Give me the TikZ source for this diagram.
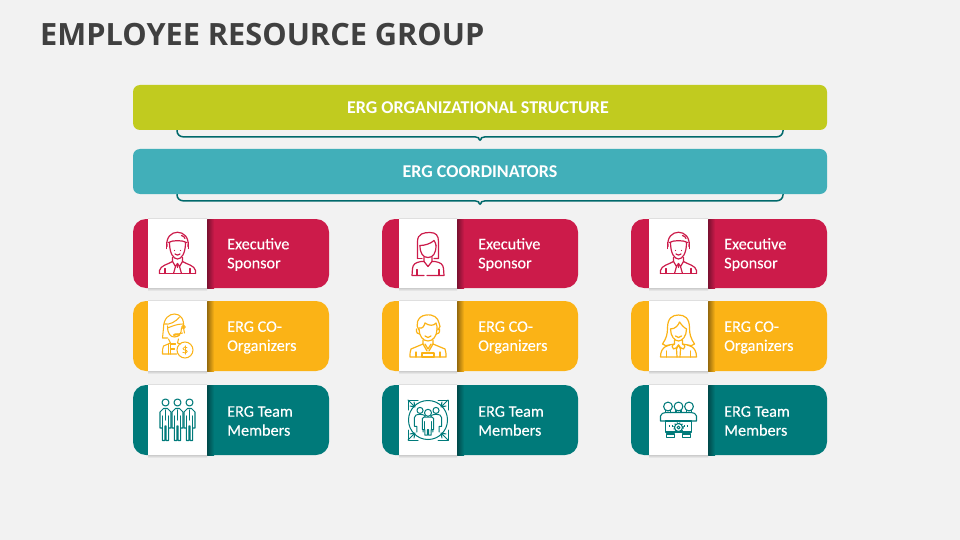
\documentclass[tikz,border=0pt]{standalone}
\usepackage{fontspec}
\setmainfont{Carlito}
\newfontfamily\cardfont[FakeBold=0.25]{Carlito}
\newfontfamily\titlefont{Open Sans}
\definecolor{bgc}{HTML}{F2F2F2}
\definecolor{titlec}{HTML}{404040}
\definecolor{greenc}{HTML}{C1CB1F}
\definecolor{aquac}{HTML}{41AFB9}
\definecolor{redc}{HTML}{CC1B4A}
\definecolor{redd}{HTML}{7A1030}
\definecolor{yelc}{HTML}{FBB316}
\definecolor{yeld}{HTML}{94690D}
\definecolor{tealc}{HTML}{007A7A}
\definecolor{teald}{HTML}{00494A}
\definecolor{bracec}{HTML}{00696B}
\tikzset{
  bar/.style={rounded corners=7pt,inner sep=0pt,outer sep=0pt,minimum width=694pt,minimum height=45pt,text height=12.4pt,text depth=0pt,text=white,font=\fontsize{18}{20}\selectfont\bfseries},
  brace/.style={draw=bracec,line width=1.5pt},
  cardbox/.style={rounded corners=13pt,inner sep=0pt,outer sep=0pt,minimum width=196pt},
  whitebox/.style={fill=white,inner sep=0pt,outer sep=0pt},
  cardtext/.style={anchor=west,align=left,inner sep=0pt,text=white,font=\cardfont\fontsize{16.2}{19}\selectfont},
  ico/.style={line width=1.2pt,line join=round,line cap=round},
  pics/execman/.style={code={
    \begin{scope}[ico]
    \draw (-10.5,-7) .. controls (-13,-26) and (13,-26) .. (10.5,-7);
    \draw (-9,-11) .. controls (-5,-13.5) and (5,-13.5) .. (9,-11);
    \draw (-8,-11) .. controls (-8,0) and (-4,5.5) .. (0,5.5) .. controls (4,5.5) and (8,0) .. (8,-11);
    \draw (4,-18) .. controls (6,-18) and (7,-16) .. (7.5,-15);
    \draw (-11,-11) -- (-11,-5) (11,-11) -- (11,-5);
    \draw (-2.5,0.5) .. controls (-1,2) and (1,2) .. (2.5,0.5);
    \fill (-3,-3) circle (0.7) (3,-3) circle (0.7);
    \draw (-18,20) -- (18,20);
    \draw (-18,20) -- (-18,17) .. controls (-17,12) and (-10,11) .. (-5,8) -- (-5,4);
    \draw (18,20) -- (18,17) .. controls (17,12) and (10,11) .. (5,8) -- (5,4);
    \draw (-12.5,20) -- (-12.5,15) (12.5,20) -- (12.5,15);
    \draw (-5,8) -- (-2,13) -- (0,10) -- (2,13) -- (5,8);
    \draw (-4,20) -- (-2,13) (4,20) -- (2,13) (0,10) -- (0,14);
    \end{scope}}},
  pics/execwoman/.style={code={
    \begin{scope}[ico]
    \draw (-10.5,5) -- (-10.5,-12) .. controls (-10.5,-20) and (-4,-21) .. (2,-21) .. controls (8,-21) and (10.5,-18) .. (10.5,-12) -- (10.5,5) -- (6,5);
    \draw (-10.5,5) -- (-6,5);
    \draw (-8,-8) .. controls (-3,-8) and (3,-10) .. (6,-13) .. controls (7,-11) and (8,-10) .. (8,-8);
    \draw (-8,-8) .. controls (-8,0) and (-5,4) .. (0,4) .. controls (5,4) and (8,0) .. (8,-8);
    \draw (-4,4) -- (-4,8) -- (0,13) -- (4,8) -- (4,4);
    \draw (-4,8) -- (-7,8) .. controls (-13,9) and (-15,11) .. (-15.5,15) -- (-16,22) -- (-4,22);
    \draw (4,8) -- (7,8) .. controls (13,9) and (15,11) .. (15.5,15) -- (16,22) -- (-1,22);
    \draw (-11,16) -- (-11,22) (11,16) -- (11,22);
    \end{scope}}},
  pics/coinwoman/.style={code={
    \begin{scope}[ico,line width=1.05pt]
    \draw (-14,-8) .. controls (-14,-18) and (-8,-22) .. (-3,-22) .. controls (3,-22) and (7,-17) .. (6,-8);
    \draw (-13,-12) .. controls (-8,-11) and (-2,-14) .. (2,-19);
    \draw (-10,-8) .. controls (-5,-10) and (0,-12) .. (5,-12);
    \draw (-10,-10) .. controls (-10,-2) and (-7,1) .. (-3,1) .. controls (1,1) and (4,-2) .. (4,-8);
    \draw (-14,-8) -- (-15,2) -- (-10,2);
    \draw (6,-8) -- (7,-3) (6,-9) circle (1.8);
    \draw (-3,-1) -- (5,-3);
    \draw (-1,-1) ellipse (3 and 1.2);
    \draw (-9,3) -- (-7,7) -- (-14,10) .. controls (-15,12) and (-15,14) .. (-15,18) -- (-1,18);
    \draw (1,3) -- (0,7) -- (3,8);
    \draw (-9,8) -- (-9,18) (-7,8) -- (-2,8) (-7,13) -- (-3,13) (-7,18) -- (-7,8);
    \draw (7.5,14) circle (8);
    \draw[line width=0.8pt] (9.6,11.7) .. controls (8.5,10.6) and (5.5,10.8) .. (5.5,12.6) .. controls (5.5,14.6) and (9.8,13.6) .. (9.8,15.6) .. controls (9.8,17.4) and (6.5,17.5) .. (5.3,16.3);
    \draw[line width=0.8pt] (7.5,9.8) -- (7.5,18.2);
    \end{scope}}},
  pics/boy/.style={code={
    \begin{scope}[ico]
    \draw (-9,-6) .. controls (-13,-10) and (-11,-20) .. (-2,-21) .. controls (6,-22) and (10,-18) .. (11,-13) .. controls (13,-11) and (12,-8) .. (10,-6);
    \draw (-9,-8) .. controls (-5,-7) and (-4,-10) .. (-3,-13) .. controls (1,-10) and (6,-10) .. (8,-13) .. controls (9,-11) and (9,-9) .. (9,-7);
    \draw (-9,-7) .. controls (-9,0) and (-5,5) .. (0,5) .. controls (5,5) and (9,0) .. (9,-7);
    \draw (-11.5,-7) .. controls (-12,-3) and (-10,-2) .. (-8.5,-2);
    \draw (11.5,-7) .. controls (12,-3) and (10,-2) .. (8.5,-2);
    \draw (-3,0) .. controls (-1,2) and (1,2) .. (3,0);
    \draw (-5,4) -- (-5,8) -- (-17,13) .. controls (-18,15) and (-18,18) .. (-18,21) -- (18,21) .. controls (18,18) and (18,15) .. (17,13) -- (5,8) -- (5,4);
    \draw (-5,8) -- (-1,15) (5,8) -- (1,15) (-3,8) -- (0,13) -- (3,8);
    \draw (-6,17) rectangle (6,21);
    \draw (-12,21) -- (-12,16) (12,21) -- (12,16);
    \end{scope}}},
  pics/longhair/.style={code={
    \begin{scope}[ico]
    \draw (-11,-8) .. controls (-11,-18) and (-6,-21) .. (0,-21) .. controls (6,-21) and (11,-18) .. (11,-8) .. controls (11,-2) and (12,2) .. (16,8) .. controls (14,10) and (12,10) .. (9,9);
    \draw (-11,-8) .. controls (-11,-2) and (-12,2) .. (-16,8) .. controls (-14,10) and (-12,10) .. (-9,9);
    \draw (-8,-7) .. controls (-3,-7) and (0,-11) .. (1,-14) .. controls (3,-11) and (6,-8) .. (8,-7);
    \draw (-8,-7) .. controls (-8,0) and (-4,5) .. (0,5) .. controls (4,5) and (8,0) .. (8,-7);
    \draw (-3,0) .. controls (-1,2) and (1,2) .. (3,0);
    \draw (-4,4) -- (-4,8) .. controls (-10,9) and (-18,10) .. (-18,21) -- (18,21) .. controls (18,10) and (10,9) .. (4,8) -- (4,4);
    \draw (-4,8) .. controls (-7,9) and (-7,12) .. (-5,13) .. controls (-3,13) and (-1,11) .. (0,9) .. controls (1,11) and (3,13) .. (5,13) .. controls (7,12) and (7,9) .. (4,8);
    \draw (0,9) -- (-2,13) -- (-1.5,21) (0,9) -- (2,13) -- (1.5,21);
    \draw (-12,21) -- (-12,15) (12,21) -- (12,15);
    \end{scope}}},
  pics/person/.style={code={
    \draw[fill=white] (0,-17.5) circle (3.5);
    \draw[fill=white] (-5.5,8) -- (-5.5,-8) -- (-2,-11.5) -- (2,-11.5) -- (5.5,-8) -- (5.5,8) -- (3.2,8) -- (3.2,20.5) -- (0.6,20.5) -- (0.6,6) -- (-0.6,6) -- (-0.6,20.5) -- (-3.2,20.5) -- (-3.2,8) -- cycle;
    \draw (-3.2,-4) -- (-3.2,8) (3.2,-4) -- (3.2,8);
    \draw (0,-10) -- (0,0);
  }},
  pics/threemen/.style={code={
    \begin{scope}[ico,line width=1.05pt]
    \pic at (-12,0) {person};
    \pic at (12,0) {person};
    \pic at (0,0) {person};
    \end{scope}}},
  pics/groupcircle/.style={code={
    \begin{scope}[ico,line width=1pt]
    \draw (0,0) circle (19.5);
    \draw (-10,-20) -- (-20,-20) -- (-20,-10) (10,-20) -- (20,-20) -- (20,-10);
    \draw (-10,20) -- (-20,20) -- (-20,10) (10,20) -- (20,20) -- (20,10);
    \draw (-20,-20) -- (-13,-13) (-14,-18) -- (-13,-13) -- (-18,-14);
    \draw (20,-20) -- (13,-13) (14,-18) -- (13,-13) -- (18,-14);
    \draw (-20,20) -- (-13,13) (-14,18) -- (-13,13) -- (-18,14);
    \draw (20,20) -- (13,13) (14,18) -- (13,13) -- (18,14);
    \begin{scope}[scale=0.8]
    \foreach \px in {-10,10}{
      \draw (\px,-12) circle (3.8);
      \draw (\px-7,8) -- (\px-7,-3) .. controls (\px-7,-6) and (\px-4,-7) .. (\px,-7) .. controls (\px+4,-7) and (\px+7,-6) .. (\px+7,-3) -- (\px+7,8) -- (\px+4,8) -- (\px+4,15) (\px-4,15) -- (\px-4,8) -- (\px-7,8);
    }
    \draw[fill=white] (0,-9) circle (4.4);
    \draw[fill=white] (-7,-2) .. controls (-7,-4) and (-4,-3.5) .. (0,-3.5) .. controls (4,-3.5) and (7,-4) .. (7,-2) -- (7,12) -- (4,12) -- (4,19) -- (0.7,19) -- (0.7,12) -- (-0.7,12) -- (-0.7,19) -- (-4,19) -- (-4,12) -- (-7,12) -- cycle;
    \draw (-4,2) -- (-4,12) (4,2) -- (4,12);
    \end{scope}
    \end{scope}}},
  pics/teamgear/.style={code={
    \begin{scope}[ico,line width=1.05pt]
    \foreach \px in {-10.5,0,10.5}{
      \draw (\px,-13.5) circle (4.4);
      \draw (\px-2.5,-9.5) -- (\px-2.5,-7.5) (\px+2.5,-9.5) -- (\px+2.5,-7.5);
    }
    \draw (-18,1) -- (-18,-4) .. controls (-18,-6) and (-15,-7.5) .. (-13,-7.5) -- (13,-7.5) .. controls (15,-7.5) and (18,-6) .. (18,-4) -- (18,1) -- cycle;
    \draw (-13,1) rectangle (13,12);
    \draw[dotted,line cap=butt] (-10,6) -- (-5,6) (5,6) -- (10,6);
    \draw[fill=white] (0,7.5) circle (4);
    \draw[dash pattern=on 1pt off 1.6pt,line width=1.2pt,line cap=butt] (0,7.5) circle (4.9);
    \draw (0,7.5) circle (1.5);
    \draw (-8,12) -- (-8,14) (8,12) -- (8,14);
    \draw (-12,14) rectangle (-4,17.5);
    \draw (4,14) rectangle (12,17.5);
    \end{scope}}}
}
\newcommand{\setcol}[4]{\def\cx{#1}\def\wl{#2}\def\wr{#3}\def\tx{#4}}
\newcommand{\setrow}[5]{\def\yt{#1}\def\yb{#2}\def\cc{#3}\def\cd{#4}\def\ty{#5}}
\newcommand{\card}[3]{%
  \node[cardbox,fill=\cc,minimum height={(\yb-\yt)*1pt}] (c#1) at ({\cx+98},{(\yt+\yb)/2}) {};
  \shade[left color=\cd,right color=\cc] (\wr,\yt) rectangle ({\wr+7},\yb);
  \shade[top color=bgc,bottom color=black!20] (\wl,{\yt-2}) rectangle (\wr,\yt);
  \shade[top color=black!20,bottom color=bgc] (\wl,\yb) rectangle (\wr,{\yb+3});
  \node[whitebox,minimum width={(\wr-\wl)*1pt},minimum height={(\yb-\yt)*1pt}] (w#1) at ({(\wl+\wr)/2},{(\yt+\yb)/2}) {};
  \pic[color=\cc] (i#1) at (w#1) {#3};
  \node[cardtext] (t#1) at (\tx,\ty) {#2};
}
\begin{document}
\begin{tikzpicture}[x=1pt,y=-1pt]
\path[fill=bgc] (0,0) rectangle (960,540);
\useasboundingbox (0,0) rectangle (960,540);
\node[anchor=west,inner sep=0pt,text=titlec,font=\titlefont\fontsize{30.7}{36}\selectfont\bfseries] (title) at (40,34.5) {EMPLOYEE RESOURCE GROUP};
% braces
\coordinate (bal) at (177,128);
\coordinate (bar) at (783,128);
\coordinate (bat) at (480,143.5);
\coordinate (bbl) at (177,192);
\coordinate (bbr) at (783,192);
\coordinate (bbt) at (480,207.5);
\draw[brace,rounded corners=6pt] (bal) -- (177,136.8) -- (469,136.8) .. controls (475,136.8) and (478.5,138) .. (bat) .. controls (481.5,138) and (485,136.8) .. (491,136.8) -- (783,136.8) -- (bar);
\draw[brace,rounded corners=6pt] (bbl) -- (177,200.8) -- (469,200.8) .. controls (475,200.8) and (478.5,202) .. (bbt) .. controls (481.5,202) and (485,200.8) .. (491,200.8) -- (783,200.8) -- (bbr);
\node[bar,fill=greenc] (top) at (480,107.5) {\hspace*{-2pt}ERG ORGANIZATIONAL STRUCTURE\hspace*{2pt}};
\node[bar,fill=aquac] (coord) at (480,171.5) {ERG COORDINATORS};
% column 1
\setcol{133}{148}{207}{227}
\setrow{219}{288}{redc}{redd}{254.5}\card{a}{Executive\\Sponsor}{execman}
\setrow{301}{371}{yelc}{yeld}{337.5}\card{b}{ERG CO-\\Organizers}{coinwoman}
\setrow{385}{455}{tealc}{teald}{421}\card{c}{ERG Team\\Members}{threemen}
% column 2
\setcol{382}{399}{457}{478}
\setrow{219}{288}{redc}{redd}{254.5}\card{d}{Executive\\Sponsor}{execwoman}
\setrow{301}{371}{yelc}{yeld}{337.5}\card{e}{ERG CO-\\Organizers}{boy}
\setrow{385}{455}{tealc}{teald}{421}\card{f}{ERG Team\\Members}{groupcircle}
% column 3
\setcol{631}{649}{708}{724}
\setrow{219}{288}{redc}{redd}{254.5}\card{g}{Executive\\Sponsor}{execman}
\setrow{301}{371}{yelc}{yeld}{337.5}\card{h}{ERG CO-\\Organizers}{longhair}
\setrow{385}{455}{tealc}{teald}{421}\card{i}{ERG Team\\Members}{teamgear}
\end{tikzpicture}
\end{document}
